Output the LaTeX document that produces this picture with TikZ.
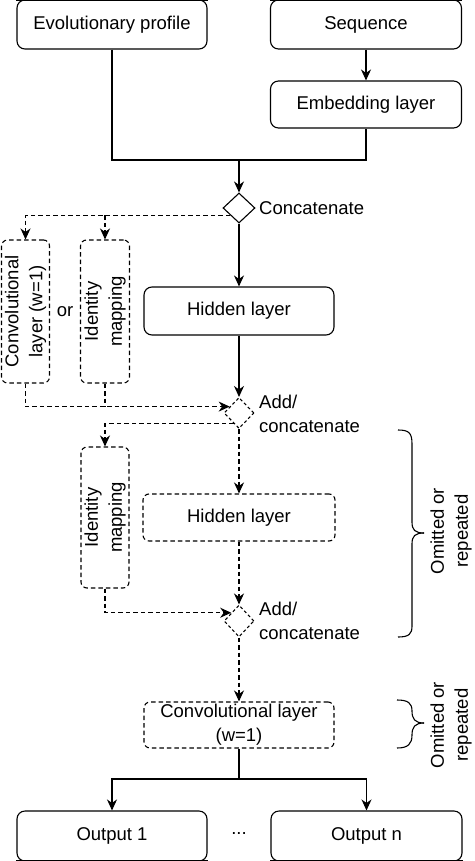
\documentclass[tikz,border=0pt]{standalone}
\usepackage{fontspec}
\setmainfont{Liberation Sans}
\usepackage{graphicx}
\usetikzlibrary{shapes.geometric,arrows.meta,calc}
\tikzset{
  box/.style={draw, rounded corners=8pt, line width=1.1pt, inner sep=0pt, align=center},
  dbox/.style={box, dash pattern=on 4.5pt off 3pt, rounded corners=6pt},
  dia/.style={draw, diamond, inner sep=0pt, line width=1.1pt},
  ddia/.style={dia, dash pattern=on 3pt off 2.5pt},
  conn/.style={line width=1.1pt},
  arr/.style={conn, -{Stealth[length=11pt,width=10pt,inset=3.5pt]}},
  darr/.style={arr, dash pattern=on 4.5pt off 3pt},
  dconn/.style={conn, dash pattern=on 4.5pt off 3pt},
  lbl/.style={inner sep=0pt, align=left, anchor=west},
  brc/.style={line width=1.1pt},
}
\begin{document}
\begin{tikzpicture}[x=1pt,y=-1pt,font=\fontsize{18.5}{24}\selectfont]
\useasboundingbox (0,0) rectangle (474,861);
% top boxes
\node[box, minimum width=190pt, minimum height=49pt] (evo) at (112,24.5) {Evolutionary profile};
\node[box, minimum width=191pt, minimum height=49pt] (seq) at (366,24.5) {Sequence};
\node[box, minimum width=191pt, minimum height=47pt] (emb) at (366,104.5) {Embedding layer};
\draw[line width=3pt] (evo.north west) -- (evo.north east);
\draw[line width=3pt] (seq.north west) -- (seq.north east);
% concat
\node[dia, minimum width=32pt, minimum height=30pt] (concat) at (239,208) {};
\node[lbl] (lconcat) at (259,208) {Concatenate};
\coordinate (j1) at (239,160);
\draw[conn] (evo.south) |- (j1) -| (emb.south);
\draw[arr] (j1) -- (concat.north);
\draw[arr] (seq.south) -- (emb.north);
% first block
\node[box, minimum width=190pt, minimum height=48pt] (hid1) at (239,311) {Hidden layer};
\node[dbox, minimum width=47pt, minimum height=143pt] (conv1) at (25.5,311.5)
  {\rotatebox{90}{\begin{tabular}{@{}c@{}}Convolutional\\layer (w=1)\end{tabular}}};
\node[dbox, minimum width=49pt, minimum height=143pt] (id1) at (105,311.5)
  {\rotatebox{90}{\begin{tabular}{@{}c@{}}Identity\\mapping\end{tabular}}};
\node[inner sep=0pt] (or) at (65,312) {or};
\node[ddia, minimum width=30pt, minimum height=31pt] (add1) at (239,413) {};
\node[lbl, align=left] (ladd1) at (259,414) {Add/\\concatenate};
\draw[arr] (concat.south) -- (hid1.north);
\draw[arr] (hid1.south) -- (add1.north);
\coordinate (s1) at ($(concat.west)!0.47!(concat.south)$);
\draw[darr] (s1) -| (conv1.north);
\draw[darr] (id1.north |- s1) -- (id1.north);
\coordinate (t1) at ($(add1.west)!0.4!(add1.north)$);
\draw[darr] (conv1.south) |- (t1);
\draw[dconn] (id1.south) -- (id1.south |- t1);
% second block
\node[dbox, minimum width=48pt, minimum height=141pt] (id2) at (105,517.5)
  {\rotatebox{90}{\begin{tabular}{@{}c@{}}Identity\\mapping\end{tabular}}};
\node[dbox, minimum width=192pt, minimum height=47pt] (hid2) at (239,517.5) {Hidden layer};
\node[ddia, minimum width=30pt, minimum height=32pt] (add2) at (239,621) {};
\node[lbl, align=left] (ladd2) at (259,621) {Add/\\concatenate};
\coordinate (s2) at ($(add1.west)!0.65!(add1.south)$);
\draw[darr] (s2) -| (id2.north);
\draw[darr] (add1.south) -- (hid2.north);
\draw[darr] (hid2.south) -- (add2.north);
\coordinate (t2) at ($(add2.west)!0.5!(add2.north)$);
\draw[darr] (id2.south) |- (t2);
% final conv
\node[dbox, minimum width=190pt, minimum height=46pt] (conv2) at (239,725)
  {Convolutional layer\\(w=1)};
\draw[darr] (add2.south) -- (conv2.north);
% outputs
\node[box, minimum width=190pt, minimum height=50pt] (out1) at (112,836) {Output 1};
\node[box, minimum width=191pt, minimum height=50pt] (outn) at (366.5,836) {Output n};
\draw[line width=3pt] (out1.south west) -- (out1.south east);
\draw[line width=3pt] (outn.south west) -- (outn.south east);
\node[inner sep=0pt] (dots) at (239,834) {...};
\coordinate (j2) at (239,779);
\draw[conn] (conv2.south) -- (j2);
\draw[arr] (j2) -| (out1.north);
\draw[arr] (j2) -| (outn.north);
% braces
\draw[brc] (398,430) .. controls (409,430) and (412,433) .. (412,444) -- (412,522)
  .. controls (412,530) and (415,533) .. (424,533);
\draw[brc] (424,533) .. controls (415,533) and (412,536) .. (412,544) -- (412,626)
  .. controls (412,634) and (409,637) .. (398,637);
\node[rotate=90, align=center, inner sep=0pt] (om1) at (451,531) {Omitted or\\repeated};
\draw[brc] (397,700) .. controls (408,700) and (412,703) .. (412,711)
  .. controls (412,719) and (415,723) .. (424,723);
\draw[brc] (424,723) .. controls (415,723) and (412,727) .. (412,735)
  .. controls (412,744) and (408,748) .. (397,748);
\node[rotate=90, align=center, inner sep=0pt] (om2) at (451,725) {Omitted or\\repeated};
\end{tikzpicture}
\end{document}
